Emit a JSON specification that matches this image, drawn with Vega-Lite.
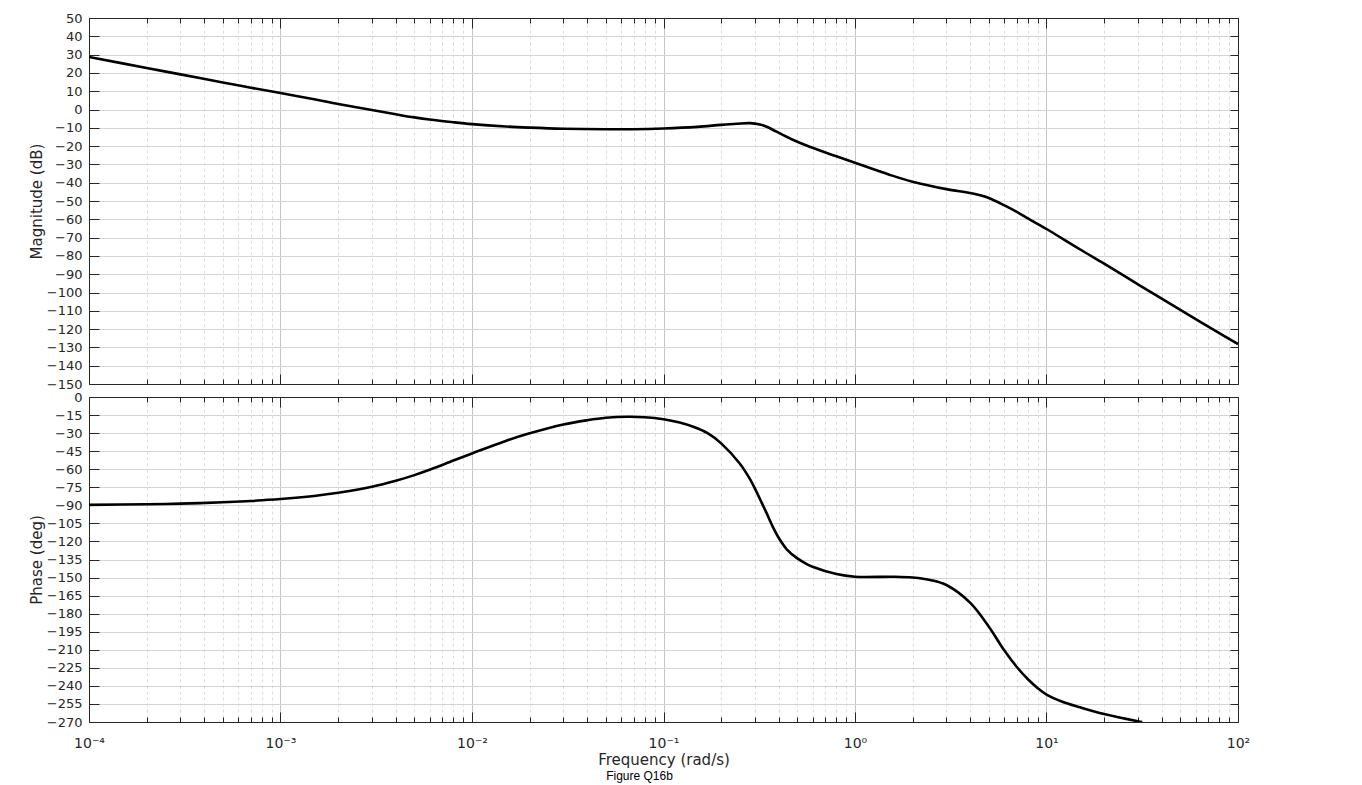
{
  "$schema": "https://vega.github.io/schema/vega-lite/v6.json",
  "background": "white",
  "padding": {"left": 29, "top": 12, "right": 5, "bottom": 2},
  "datasets": {
    "mag": [
      {"f": 0.0001, "v": 28.7}, {"f": 0.0002, "v": 22.7}, {"f": 0.0003, "v": 19.2}, {"f": 0.0005, "v": 14.8},
      {"f": 0.0007, "v": 11.9}, {"f": 0.001, "v": 9.0}, {"f": 0.0015, "v": 5.6}, {"f": 0.002, "v": 3.0},
      {"f": 0.003, "v": -0.3}, {"f": 0.004, "v": -2.6}, {"f": 0.005, "v": -4.3}, {"f": 0.006, "v": -5.5},
      {"f": 0.008, "v": -7.0}, {"f": 0.01, "v": -8.0}, {"f": 0.015, "v": -9.3}, {"f": 0.02, "v": -9.9},
      {"f": 0.03, "v": -10.5}, {"f": 0.05, "v": -10.8}, {"f": 0.07, "v": -10.8}, {"f": 0.1, "v": -10.4},
      {"f": 0.15, "v": -9.5}, {"f": 0.2, "v": -8.4}, {"f": 0.241, "v": -7.8}, {"f": 0.283, "v": -7.45},
      {"f": 0.319, "v": -8.2}, {"f": 0.346, "v": -9.4}, {"f": 0.387, "v": -12.0}, {"f": 0.47, "v": -16.4},
      {"f": 0.58, "v": -20.4}, {"f": 0.8, "v": -25.6}, {"f": 1.0, "v": -29.1},
      {"f": 1.5, "v": -35.5}, {"f": 2, "v": -39.5}, {"f": 3, "v": -43.5}, {"f": 4, "v": -45.6},
      {"f": 4.5, "v": -46.9}, {"f": 5, "v": -48.4}, {"f": 6, "v": -52.3}, {"f": 7, "v": -56.0}, {"f": 8, "v": -59.5},
      {"f": 10, "v": -65.3}, {"f": 15, "v": -76.5}, {"f": 20, "v": -84.2}, {"f": 30, "v": -95.5},
      {"f": 50, "v": -109.5}, {"f": 70, "v": -118.7}, {"f": 100, "v": -128.2}
    ],
    "phase": [
      {"f": 0.0001, "v": -89.6}, {"f": 0.0002, "v": -89.1}, {"f": 0.0003, "v": -88.6}, {"f": 0.0005, "v": -87.5},
      {"f": 0.0007, "v": -86.4}, {"f": 0.001, "v": -84.8}, {"f": 0.0015, "v": -82.2}, {"f": 0.002, "v": -79.6},
      {"f": 0.003, "v": -74.6}, {"f": 0.004, "v": -69.6}, {"f": 0.005, "v": -64.9}, {"f": 0.006, "v": -60.5},
      {"f": 0.008, "v": -52.8}, {"f": 0.01, "v": -46.9}, {"f": 0.015, "v": -36.5}, {"f": 0.02, "v": -30.2},
      {"f": 0.03, "v": -22.8}, {"f": 0.04, "v": -19.3}, {"f": 0.05, "v": -17.3}, {"f": 0.065, "v": -16.4},
      {"f": 0.08, "v": -16.8}, {"f": 0.1, "v": -18.5}, {"f": 0.12, "v": -21.0}, {"f": 0.143, "v": -24.7},
      {"f": 0.17, "v": -30.0}, {"f": 0.2, "v": -38.5}, {"f": 0.25, "v": -55.2}, {"f": 0.28, "v": -67.0},
      {"f": 0.303, "v": -77.3}, {"f": 0.325, "v": -87.5}, {"f": 0.346, "v": -96.7}, {"f": 0.374, "v": -108.5},
      {"f": 0.403, "v": -118.0}, {"f": 0.44, "v": -126.5}, {"f": 0.5, "v": -134.1}, {"f": 0.56, "v": -138.8},
      {"f": 0.6, "v": -141.0}, {"f": 0.8, "v": -147.1}, {"f": 1.0, "v": -149.3},
      {"f": 1.6, "v": -149.3}, {"f": 2.0, "v": -150.0}, {"f": 2.5, "v": -152.2}, {"f": 3.0, "v": -156.2}, {"f": 4.0, "v": -171.0},
      {"f": 5.0, "v": -190.8}, {"f": 6.0, "v": -210.2}, {"f": 7.0, "v": -224.3}, {"f": 8.0, "v": -234.5},
      {"f": 9.0, "v": -241.9}, {"f": 10.0, "v": -247.2}, {"f": 12.0, "v": -252.9}, {"f": 15.0, "v": -257.8},
      {"f": 20.0, "v": -263.4}, {"f": 30.0, "v": -269.4}, {"f": 31.6, "v": -270.0}
    ]
  },
  "title": {"text": "Figure Q16b", "orient": "bottom", "anchor": "middle", "font": "Liberation Sans", "fontSize": 12, "fontWeight": "normal", "color": "#000000", "dx": 0, "offset": 4},
  "bounds": "flush",
  "spacing": 13,
  "vconcat": [
    {
      "width": 1149,
      "height": 366,
      "data": {"name": "mag"},
      "layer": [
        {
          "mark": {"type": "line", "color": "#000000", "strokeWidth": 2.6, "interpolate": "catmull-rom", "clip": true},
          "encoding": {
            "x": {"field": "f", "type": "quantitative",
              "scale": {"type": "log", "domain": [0.0001, 100], "nice": false},
              "axis": {"orient": "bottom", "labels": false, "title": null,
                "values": [0.0001,0.0002,0.0003,0.0004,0.0005,0.0006,0.0007,0.0008,0.0009,0.001,0.002,0.003,0.004,0.005,0.006,0.007,0.008,0.009,0.01,0.02,0.03,0.04,0.05,0.06,0.07,0.08,0.09,0.1,0.2,0.3,0.4,0.5,0.6,0.7,0.8,0.9,1,2,3,4,5,6,7,8,9,10,20,30,40,50,60,70,80,90,100],
                "tickSize": {"condition": {"test": "abs(log(datum.value)/LN10 - round(log(datum.value)/LN10)) < 0.01", "value": -10}, "value": -5},
                "tickColor": "#262626", "domainColor": "#262626",
                "grid": true,
                "gridColor": {"condition": {"test": "abs(log(datum.value)/LN10 - round(log(datum.value)/LN10)) < 0.01", "value": "#c4c4c4"}, "value": "#dcdcdc"},
                "gridDash": {"condition": {"test": "abs(log(datum.value)/LN10 - round(log(datum.value)/LN10)) < 0.01", "value": []}, "value": [3, 3]}
              }},
            "y": {"field": "v", "type": "quantitative",
              "scale": {"domain": [-150, 50], "nice": false, "zero": false},
              "axis": {"orient": "left",
                "values": [50,40,30,20,10,0,-10,-20,-30,-40,-50,-60,-70,-80,-90,-100,-110,-120,-130,-140,-150],
                "labelOverlap": false, "labelFont": "DejaVu Sans", "labelFontSize": 13, "labelColor": "#262626",
                "labelPadding": 17, "tickSize": -10, "tickColor": "#262626", "domainColor": "#262626",
                "grid": true, "gridColor": "#d4d4d4",
                "title": "Magnitude (dB)", "titleFont": "DejaVu Sans", "titleFontSize": 15, "titleFontWeight": "normal", "titleColor": "#262626", "titlePadding": 2
              }}
          }
        },
        {
          "mark": {"type": "line", "strokeOpacity": 0},
          "encoding": {
            "x": {"field": "f", "type": "quantitative",
              "axis": {"orient": "top", "labels": false, "title": null, "grid": false,
                "values": [0.0001,0.0002,0.0003,0.0004,0.0005,0.0006,0.0007,0.0008,0.0009,0.001,0.002,0.003,0.004,0.005,0.006,0.007,0.008,0.009,0.01,0.02,0.03,0.04,0.05,0.06,0.07,0.08,0.09,0.1,0.2,0.3,0.4,0.5,0.6,0.7,0.8,0.9,1,2,3,4,5,6,7,8,9,10,20,30,40,50,60,70,80,90,100],
                "tickSize": {"condition": {"test": "abs(log(datum.value)/LN10 - round(log(datum.value)/LN10)) < 0.01", "value": -10}, "value": -5},
                "tickColor": "#262626", "domainColor": "#262626"}},
            "y": {"field": "v", "type": "quantitative",
              "axis": {"orient": "right", "labels": false, "title": null, "grid": false,
                "values": [50,40,30,20,10,0,-10,-20,-30,-40,-50,-60,-70,-80,-90,-100,-110,-120,-130,-140,-150],
                "tickSize": -8, "tickColor": "#262626", "domainColor": "#262626"}}
          }
        }
      ],
      "resolve": {"axis": {"x": "independent", "y": "independent"}}
    },
    {
      "width": 1149,
      "height": 325,
      "data": {"name": "phase"},
      "layer": [
        {
          "mark": {"type": "line", "color": "#000000", "strokeWidth": 2.6, "interpolate": "catmull-rom", "clip": true},
          "encoding": {
            "x": {"field": "f", "type": "quantitative",
              "scale": {"type": "log", "domain": [0.0001, 100], "nice": false},
              "axis": {"orient": "bottom",
                "values": [0.0001,0.0002,0.0003,0.0004,0.0005,0.0006,0.0007,0.0008,0.0009,0.001,0.002,0.003,0.004,0.005,0.006,0.007,0.008,0.009,0.01,0.02,0.03,0.04,0.05,0.06,0.07,0.08,0.09,0.1,0.2,0.3,0.4,0.5,0.6,0.7,0.8,0.9,1,2,3,4,5,6,7,8,9,10,20,30,40,50,60,70,80,90,100],
                "labelExpr": "abs(log(datum.value)/LN10 - round(log(datum.value)/LN10)) < 0.01 ? ['10⁻⁴','10⁻³','10⁻²','10⁻¹','10⁰','10¹','10²'][round(log(datum.value)/LN10)+4] : ''",
                "labelOverlap": false, "labelFlush": false, "labelFont": "DejaVu Sans", "labelFontSize": 14, "labelColor": "#262626", "labelPadding": 24,
                "tickSize": {"condition": {"test": "abs(log(datum.value)/LN10 - round(log(datum.value)/LN10)) < 0.01", "value": -10}, "value": -5},
                "tickColor": "#262626", "domainColor": "#262626",
                "grid": true,
                "gridColor": {"condition": {"test": "abs(log(datum.value)/LN10 - round(log(datum.value)/LN10)) < 0.01", "value": "#c4c4c4"}, "value": "#dcdcdc"},
                "gridDash": {"condition": {"test": "abs(log(datum.value)/LN10 - round(log(datum.value)/LN10)) < 0.01", "value": []}, "value": [3, 3]},
                "title": "Frequency  (rad/s)", "titleFont": "DejaVu Sans", "titleFontSize": 15, "titleFontWeight": "normal", "titleColor": "#262626", "titlePadding": -3
              }},
            "y": {"field": "v", "type": "quantitative",
              "scale": {"domain": [-270, 0], "nice": false, "zero": false},
              "axis": {"orient": "left",
                "values": [0,-15,-30,-45,-60,-75,-90,-105,-120,-135,-150,-165,-180,-195,-210,-225,-240,-255,-270],
                "labelOverlap": false, "labelFont": "DejaVu Sans", "labelFontSize": 13, "labelColor": "#262626",
                "labelPadding": 17, "tickSize": -10, "tickColor": "#262626", "domainColor": "#262626",
                "grid": true, "gridColor": "#d4d4d4",
                "title": "Phase (deg)", "titleFont": "DejaVu Sans", "titleFontSize": 15, "titleFontWeight": "normal", "titleColor": "#262626", "titlePadding": 2
              }}
          }
        },
        {
          "mark": {"type": "line", "strokeOpacity": 0},
          "encoding": {
            "x": {"field": "f", "type": "quantitative",
              "axis": {"orient": "top", "labels": false, "title": null, "grid": false,
                "values": [0.0001,0.0002,0.0003,0.0004,0.0005,0.0006,0.0007,0.0008,0.0009,0.001,0.002,0.003,0.004,0.005,0.006,0.007,0.008,0.009,0.01,0.02,0.03,0.04,0.05,0.06,0.07,0.08,0.09,0.1,0.2,0.3,0.4,0.5,0.6,0.7,0.8,0.9,1,2,3,4,5,6,7,8,9,10,20,30,40,50,60,70,80,90,100],
                "tickSize": {"condition": {"test": "abs(log(datum.value)/LN10 - round(log(datum.value)/LN10)) < 0.01", "value": -10}, "value": -5},
                "tickColor": "#262626", "domainColor": "#262626"}},
            "y": {"field": "v", "type": "quantitative",
              "axis": {"orient": "right", "labels": false, "title": null, "grid": false,
                "values": [0,-15,-30,-45,-60,-75,-90,-105,-120,-135,-150,-165,-180,-195,-210,-225,-240,-255,-270],
                "tickSize": -8, "tickColor": "#262626", "domainColor": "#262626"}}
          }
        }
      ],
      "resolve": {"axis": {"x": "independent", "y": "independent"}}
    }
  ],
  "config": {
    "view": {"stroke": null},
    "font": "DejaVu Sans"
  }
}
